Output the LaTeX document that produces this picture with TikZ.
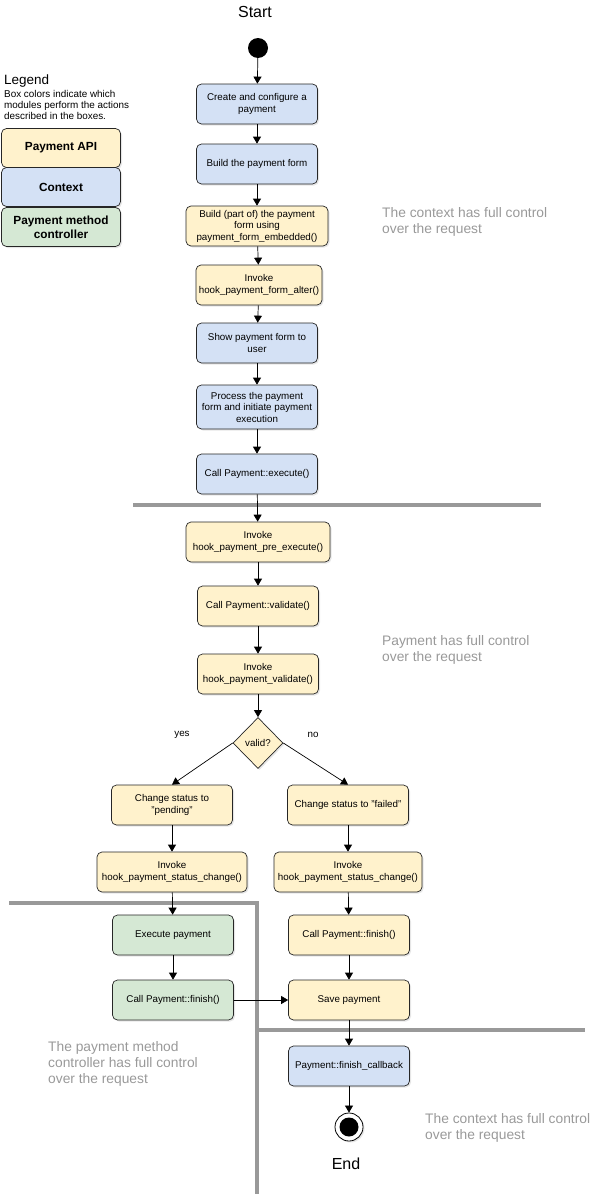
\documentclass[tikz,border=0pt]{standalone}
\usepackage{fontspec}
\setmainfont{Liberation Sans}
\usetikzlibrary{arrows.meta,shapes.geometric,shadows}
\definecolor{apicol}{HTML}{FFF2CC}
\definecolor{ctxcol}{HTML}{D4E1F5}
\definecolor{pmccol}{HTML}{D5E8D4}
\definecolor{sepcol}{HTML}{999999}
\begin{document}
\begin{tikzpicture}[x=1pt, y=-1pt,
    box/.style={rectangle, rounded corners=5pt, draw=black!85, line width=0.7pt,
        minimum width=121pt, minimum height=40pt, inner sep=1pt, align=center,
        font=\fontsize{9.8}{11.5}\selectfont,
        drop shadow={shadow xshift=1.5pt, shadow yshift=-1.5pt, opacity=0.2}},
    api/.style={box, fill=apicol},
    ctx/.style={box, fill=ctxcol},
    pmc/.style={box, fill=pmccol},
    legendbox/.style={box, minimum width=119pt, minimum height=39pt,
        font=\fontsize{11.8}{14}\selectfont\bfseries},
    note/.style={anchor=north west, align=left, text=black!40, inner sep=0pt,
        font=\fontsize{13.8}{16}\selectfont},
    sep/.style={sepcol, line width=3.5pt},
    arr/.style={-{Triangle[length=7pt, width=8pt]}, line width=0.7pt}]
    \useasboundingbox (0,0) rectangle (597,1194);

    % legend
    \node[anchor=north west, inner sep=0pt, font=\fontsize{13.5}{15}\selectfont] (legend) at (4,75) {Legend};
    \node[anchor=north west, inner sep=0pt, align=left, font=\fontsize{9.9}{11}\selectfont] (legendtext) at (4,90)
        {Box colors indicate which\\modules perform the actions\\described in the boxes.};
    \node[legendbox, fill=apicol] (lapi) at (61,148) {Payment API};
    \node[legendbox, fill=ctxcol] (lctx) at (61,187) {Context};
    \node[legendbox, fill=pmccol] (lpmc) at (61,227) {Payment method\\controller};

    % start
    \node[font=\fontsize{16}{18}\selectfont] (starttext) at (255,12) {Start};
    \node[circle, fill=black, minimum size=20pt, inner sep=0pt] (start) at (258,48) {};

    % context and payment api
    \node[ctx] (create) at (257,104) {Create and configure a\\payment};
    \node[ctx] (build) at (257,164) {Build the payment form};
    \node[api, minimum width=142pt] (embedded) at (257,226) {Build (part of) the payment\\form using\\payment\_form\_embedded()};
    \node[api, minimum width=126pt] (formalter) at (259,285) {Invoke\\hook\_payment\_form\_alter()};
    \node[ctx] (show) at (257,343) {Show payment form to\\user};
    \node[ctx, minimum height=44pt] (process) at (257,407) {Process the payment\\form and initiate payment\\execution};
    \node[ctx] (execute) at (257,474) {Call Payment::execute()};

    \node[api, minimum width=144pt] (preexecute) at (258,542) {Invoke\\hook\_payment\_pre\_execute()};
    \node[api] (validate) at (258,606) {Call Payment::validate()};
    \node[api] (hookvalidate) at (258,674) {Invoke\\hook\_payment\_validate()};
    \node[diamond, draw=black!85, fill=apicol, line width=0.7pt, minimum width=50pt, minimum height=51pt,
        inner sep=0pt, font=\fontsize{9.8}{11}\selectfont,
        drop shadow={shadow xshift=1.5pt, shadow yshift=-1.5pt, opacity=0.2}] (valid) at (258,743) {valid?};
    \node[font=\fontsize{9.8}{11}\selectfont] (yes) at (182,735) {yes};
    \node[font=\fontsize{9.8}{11}\selectfont] (no) at (313,735) {no};

    % yes branch
    \node[api] (pending) at (172,805) {Change status to\\"pending"};
    \node[api, minimum width=150pt] (statusyes) at (172,872) {Invoke\\hook\_payment\_status\_change()};
    \node[pmc] (pay) at (173,935) {Execute payment};
    \node[pmc] (finishpmc) at (173,1000) {Call Payment::finish()};

    % no branch
    \node[api] (failed) at (348,805) {Change status to "failed"};
    \node[api, minimum width=148pt] (statusno) at (348,872) {Invoke\\hook\_payment\_status\_change()};
    \node[api] (finishapi) at (349,935) {Call Payment::finish()};
    \node[api] (save) at (349,1000) {Save payment};
    \node[ctx] (callback) at (349,1066) {Payment::finish\_callback};

    % end
    \node[circle, draw=black, line width=0.8pt, fill=white, minimum size=28pt, inner sep=0pt,
        drop shadow={shadow xshift=1.5pt, shadow yshift=-1.5pt, opacity=0.2},
        path picture={\fill[black] (path picture bounding box.center) circle (9.5pt);}] (end) at (349,1127) {};
    \node[font=\fontsize{16}{18}\selectfont] (endtext) at (346,1164) {End};

    % control separators
    \draw[sep] (133,505) -- (541,505);
    \draw[sep] (9,903) -- (257,903) -- (257,1194);
    \draw[sep] (257,1030) -- (585,1030);

    \node[note] (note1) at (382,207) {The context has full control\\over the request};
    \node[note] (note2) at (382,635) {Payment has full control\\over the request};
    \node[note] (note3) at (48,1041) {The payment method\\controller has full control\\over the request};
    \node[note] (note4) at (425,1113) {The context has full control\\over the request};

    % flow
    \draw[arr] (start) -- (create);
    \draw[arr] (create) -- (build);
    \draw[arr] (build) -- (embedded);
    \draw[arr] (embedded) -- (formalter);
    \draw[arr] (formalter) -- (show);
    \draw[arr] (show) -- (process);
    \draw[arr] (process) -- (execute);
    \draw[arr] (execute) -- (preexecute);
    \draw[arr] (preexecute) -- (validate);
    \draw[arr] (validate) -- (hookvalidate);
    \draw[arr] (hookvalidate) -- (valid);
    \draw[arr] (valid.west) -- (pending.north);
    \draw[arr] (valid.east) -- (failed.north);
    \draw[arr] (pending) -- (statusyes);
    \draw[arr] (statusyes) -- (pay);
    \draw[arr] (pay) -- (finishpmc);
    \draw[arr] (failed) -- (statusno);
    \draw[arr] (statusno) -- (finishapi);
    \draw[arr] (finishapi) -- (save);
    \draw[arr] (finishpmc) -- (save);
    \draw[arr] (save) -- (callback);
    \draw[arr] (callback) -- (end);
\end{tikzpicture}
\end{document}
